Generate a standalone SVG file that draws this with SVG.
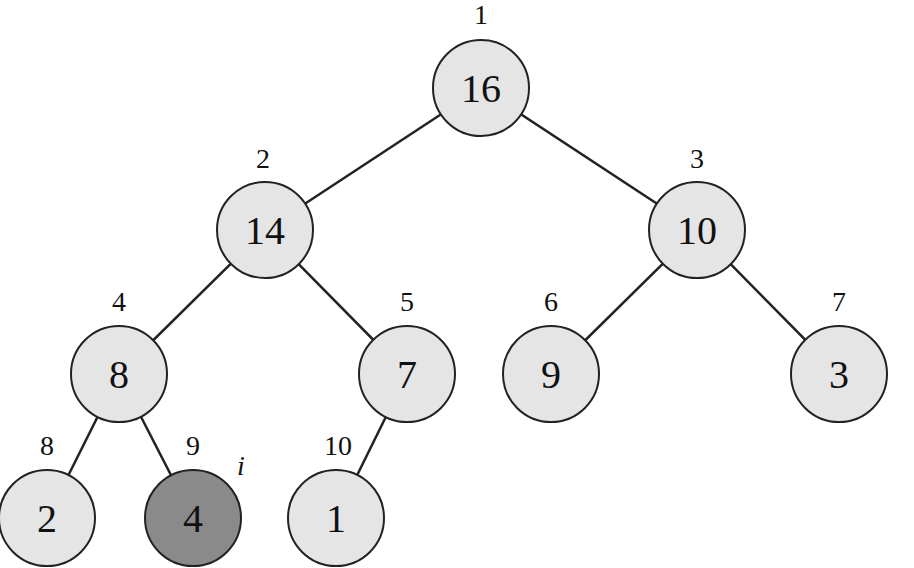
<svg xmlns="http://www.w3.org/2000/svg" width="914" height="568" viewBox="0 0 914 568">
<style>
.n{fill:#e5e5e5;stroke:#222;stroke-width:2}
.d{fill:#8a8a8a;stroke:#222;stroke-width:2}
.v{font-family:"Liberation Serif",serif;font-size:40px;text-anchor:middle;fill:#111}
.ix{font-family:"Liberation Serif",serif;font-size:28px;text-anchor:middle;fill:#111}
line{stroke:#222;stroke-width:2.5}
</style>
<rect width="914" height="568" fill="#fff"/>
<g id="connectors">
<line x1="481" y1="88" x2="265" y2="230"/>
<line x1="481" y1="88" x2="697" y2="230"/>
<line x1="265" y1="230" x2="119" y2="374"/>
<line x1="265" y1="230" x2="407" y2="374"/>
<line x1="697" y1="230" x2="551" y2="374"/>
<line x1="697" y1="230" x2="839" y2="374"/>
<line x1="119" y1="374" x2="47" y2="518"/>
<line x1="119" y1="374" x2="193" y2="518"/>
<line x1="407" y1="374" x2="336" y2="518"/>
</g>
<g id="n1"><circle class="n" cx="481" cy="88" r="48"/><text class="v" x="481" y="102">16</text><text class="ix" x="481" y="24">1</text></g>
<g id="n2"><circle class="n" cx="265" cy="230" r="48"/><text class="v" x="265" y="244">14</text><text class="ix" x="263" y="168">2</text></g>
<g id="n3"><circle class="n" cx="697" cy="230" r="48"/><text class="v" x="697" y="244">10</text><text class="ix" x="697" y="168">3</text></g>
<g id="n4"><circle class="n" cx="119" cy="374" r="48"/><text class="v" x="119" y="388">8</text><text class="ix" x="119" y="311">4</text></g>
<g id="n5"><circle class="n" cx="407" cy="374" r="48"/><text class="v" x="407" y="388">7</text><text class="ix" x="407" y="311">5</text></g>
<g id="n6"><circle class="n" cx="551" cy="374" r="48"/><text class="v" x="551" y="388">9</text><text class="ix" x="551" y="311">6</text></g>
<g id="n7"><circle class="n" cx="839" cy="374" r="48"/><text class="v" x="839" y="388">3</text><text class="ix" x="839" y="311">7</text></g>
<g id="n8"><circle class="n" cx="47" cy="518" r="48"/><text class="v" x="47" y="532">2</text><text class="ix" x="47" y="455">8</text></g>
<g id="n9"><circle class="d" cx="193" cy="518" r="48"/><text class="v" x="193" y="532">4</text><text class="ix" x="193" y="455">9</text><text class="ix" x="241" y="475" font-style="italic" font-size="32">i</text></g>
<g id="n10"><circle class="n" cx="336" cy="518" r="48"/><text class="v" x="336" y="532">1</text><text class="ix" x="338" y="455">10</text></g>
</svg>
